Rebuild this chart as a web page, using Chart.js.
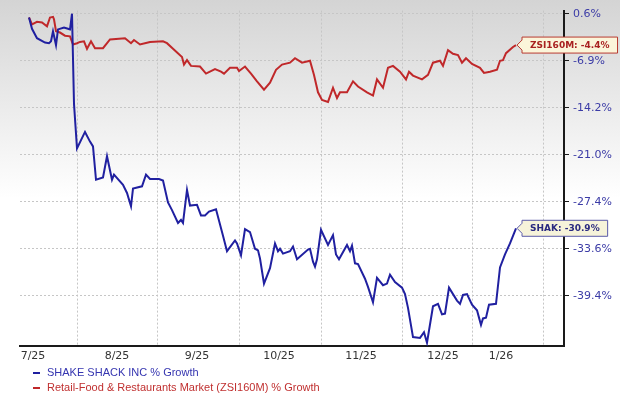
<!DOCTYPE html>
<html>
<head>
<meta charset="utf-8">
<title>SHAK vs ZSI160M % Growth</title>
<script src="https://cdn.jsdelivr.net/npm/chart.js@4.4.1/dist/chart.umd.min.js"></script>
<style>
    html, body { margin: 0; padding: 0; background: #fff; }
    #wrap { position: relative; width: 620px; height: 397px; overflow: hidden; }
    canvas { display: block; }
    .legend { position: absolute; left: 33px; top: 365px; font: 11px "Liberation Sans", Arial, sans-serif; line-height: 15px; }
    .legend .row { display: flex; align-items: center; white-space: nowrap; }
    .legend .mark { display: inline-block; width: 7px; height: 2px; margin-right: 7px; }
</style>
</head>
<body>
<div id="wrap">
    <canvas id="growthChart" width="620" height="397"></canvas>
    <div class="legend">
        <div class="row" style="color:#3535b0"><span class="mark" style="background:#2020a0"></span>SHAKE SHACK INC % Growth</div>
        <div class="row" style="color:#c03030"><span class="mark" style="background:#c0282a"></span>Retail-Food &amp; Restaurants Market (ZSI160M) % Growth</div>
    </div>
</div>
<script>
// Trading-day index (x) and % growth (y)

const shakDays = [0, 0.75, 2, 4, 5, 5.5, 6, 6.75, 7.25, 8.75, 9.75, 10.25, 10.75, 11.25, 12, 14, 15.25, 16, 16.75, 18.5,
    19.5, 20.75, 21.25, 23.5, 24.5, 25.5, 26, 28.25, 29.25, 30.25, 32.5, 33.5, 34.75, 35.75, 37.25, 38, 38.5, 39.5, 40.25, 42,
    43, 44, 45, 46.75, 48.5, 49.5, 51.5, 52, 53, 54, 55.25, 56.5, 57.25, 57.75, 58.75, 60.25, 61.5, 62.25, 62.75, 63.5,
    65.25, 66, 67, 69.75, 70.25, 71, 71.5, 72, 73, 74.75, 76, 76.75, 77.5, 79.5, 80.25, 80.75, 81.5, 82.25, 84, 84.75,
    86, 87, 88.5, 89.5, 90.25, 91.5, 93.25, 94, 94.75, 96, 97.75, 98.75, 99.5, 101, 102.25, 103.25, 104, 105, 107, 107.75,
    108.5, 109.5, 110.75, 112, 112.5, 113, 113.5, 114.25, 115, 116.75, 117.75, 119, 120.25, 121.75];
const shakPct = [0, -1.8, -3.3, -4.0, -4.1, -3.8, -2.2, -4.4, -1.9, -1.6, -1.8, -1.9, 0.6, -13.6, -20.1, -17.7, -19.1, -19.8, -24.4, -24.1,
    -21.2, -24.4, -23.7, -25.1, -26.2, -28.0, -25.6, -25.3, -23.7, -24.3, -24.3, -24.5, -27.5, -28.5, -30.2, -29.8, -30.2, -25.8, -27.9, -27.8,
    -29.2, -29.2, -28.7, -28.4, -31.9, -33.9, -32.5, -32.9, -34.4, -31.0, -31.4, -33.6, -33.8, -34.8, -37.9, -36.0, -32.9, -33.9, -33.6, -34.2,
    -33.9, -33.3, -34.9, -33.7, -33.6, -35.2, -35.8, -34.9, -31.1, -33.1, -31.8, -34.3, -34.9, -33.1, -33.9, -33.2, -35.4, -35.5, -37.3, -38.3,
    -40.2, -37.2, -38.1, -37.9, -36.8, -37.7, -38.4, -39.2, -40.9, -44.5, -44.6, -43.9, -45.2, -40.7, -40.4, -41.7, -41.6, -38.4, -40.0, -40.4,
    -39.3, -39.2, -40.5, -41.2, -42.1, -43.0, -42.2, -42.1, -40.5, -40.4, -35.9, -34.3, -32.9, -30.9];

const zsiDays = [0, 0.75, 2, 3.25, 4.5, 5.25, 6, 6.25, 6.75, 7.75, 9, 10.25, 11, 12, 12.75, 13.75, 14.5, 15.5, 16.5, 18.5,
    20.25, 24, 25.5, 26.25, 27.75, 30.25, 33.5, 34.5, 36, 38.25, 38.75, 39.5, 40.5, 42.75, 44.25, 46.5, 48, 48.75, 50.25, 52,
    52.5, 54, 55.5, 57, 58.75, 60.25, 61.75, 63.25, 65.25, 66.5, 68.25, 70.25, 71.25, 72.25, 73.25, 74.75, 76, 77, 77.75, 79.5,
    81, 82.25, 84.5, 86, 87, 88.5, 89.75, 91, 92.75, 94.25, 95, 96, 98.25, 99.75, 101, 102.75, 103.5, 104.75, 106, 107.25,
    108.25, 109.25, 110.75, 112.75, 113.75, 115.25, 117, 117.75, 118.5, 119.25, 121, 121.75];
const zsiPct = [0, -1.1, -0.7, -0.8, -1.4, 0.0, 0.1, -0.3, -2.2, -2.4, -2.9, -3.0, -4.3, -4.1, -3.9, -3.8, -5.0, -3.8, -4.9, -4.9,
    -3.5, -3.3, -4.1, -3.6, -4.3, -3.9, -3.8, -4.1, -5.0, -6.3, -7.5, -6.8, -7.7, -7.8, -8.9, -8.2, -8.6, -8.9, -8.0, -8.0,
    -8.5, -7.8, -8.9, -10.1, -11.4, -10.3, -8.3, -7.5, -7.2, -6.5, -7.2, -6.9, -9.1, -11.8, -13.0, -13.3, -11.1, -12.7, -11.8, -11.8,
    -10.1, -10.9, -11.8, -12.3, -9.8, -11.1, -8.0, -7.7, -8.6, -9.8, -8.6, -9.2, -9.8, -9.1, -7.2, -6.9, -7.7, -5.2, -5.8, -6.0,
    -7.2, -6.5, -7.4, -8.0, -8.8, -8.6, -8.3, -6.9, -6.8, -5.7, -4.7, -4.4];

// Axis ticks
const yTicks = [0.6, -6.9, -14.2, -21.0, -27.4, -33.6, -39.4];
const monthLabels = ['7/25', '8/25', '9/25', '10/25', '11/25', '12/25', '1/26'];
const labelDays = [1, 22, 42, 62.5, 83, 103.5, 118];
const gridDays = [12, 32, 52.5, 73, 93.25, 110.75, 128.5];

// y scale whose labelled ticks sit at equal spacing (piecewise linear between them)
class GrowthScale extends Chart.LinearScale {
    tickIndex(v) {
        const t = yTicks;
        const n = t.length;
        if (v >= t[0]) return (t[0] - v) / (t[0] - t[1]);
        for (let i = 0; i < n - 1; i++) {
            if (v >= t[i + 1]) return i + (t[i] - v) / (t[i] - t[i + 1]);
        }
        return n - 1 + (t[n - 1] - v) / (t[n - 2] - t[n - 1]);
    }
    getPixelForValue(v) {
        if (v === null || v === undefined) return NaN;
        const lo = this.tickIndex(this.min);
        const hi = this.tickIndex(this.max);
        return this.getPixelForDecimal((lo - this.tickIndex(v)) / (lo - hi));
    }
}
GrowthScale.id = 'growth';
GrowthScale.defaults = Chart.LinearScale.defaults;
Chart.register(GrowthScale);

// Grey-to-white background
const backgroundPlugin = {
    id: 'bg',
    beforeDraw(chart) {
        const ctx = chart.ctx;
        const g = ctx.createLinearGradient(0, 0, 0, chart.height);
        g.addColorStop(0, '#d4d4d4');
        g.addColorStop(0.5, '#ffffff');
        g.addColorStop(1, '#ffffff');
        ctx.save();
        ctx.fillStyle = g;
        ctx.fillRect(0, 0, chart.width, chart.height);
        ctx.restore();
    }
};

// Last-value callouts
const calloutPlugin = {
    id: 'callouts',
    afterDatasetsDraw(chart) {
        const ctx = chart.ctx;
        chart.data.datasets.forEach((ds, i) => {
            const pts = chart.getDatasetMeta(i).data;
            const p = pts[pts.length - 1];
            const last = ds.data[ds.data.length - 1].y;
            const text = ds.tag + ': ' + last.toFixed(1) + '%';
            ctx.save();
            ctx.font = 'bold 9px "DejaVu Sans"';
            const w = ctx.measureText(text).width + 16;
            const bx = p.x + 6;
            const top = p.y - 8;
            const h = 16;
            ctx.beginPath();
            ctx.moveTo(p.x + 1, p.y);
            ctx.lineTo(bx, p.y - 5);
            ctx.lineTo(bx, top);
            ctx.lineTo(bx + w, top);
            ctx.lineTo(bx + w, top + h);
            ctx.lineTo(bx, top + h);
            ctx.lineTo(bx, p.y + 5);
            ctx.closePath();
            ctx.fillStyle = ds.calloutBg;
            ctx.fill();
            ctx.strokeStyle = ds.calloutBorder;
            ctx.lineWidth = 1;
            ctx.stroke();
            ctx.fillStyle = ds.calloutText;
            ctx.textBaseline = 'middle';
            ctx.fillText(text, bx + 8, p.y + 0.5);
            ctx.restore();
        });
    }
};

const gridColor = '#c6c6c6';
const axisColor = '#1a1a1a';

new Chart(document.getElementById('growthChart'), {
    type: 'line',
    data: {
        datasets: [
            {
                label: 'SHAKE SHACK INC % Growth',
                tag: 'SHAK',
                data: shakDays.map((d, i) => ({ x: d, y: shakPct[i] })),
                borderColor: '#2020a0',
                borderWidth: 2,
                pointRadius: 0,
                tension: 0,
                calloutBg: '#f6f3da',
                calloutBorder: '#5a5aa8',
                calloutText: '#2a2a80'
            },
            {
                label: 'Retail-Food & Restaurants Market (ZSI160M) % Growth',
                tag: 'ZSI160M',
                data: zsiDays.map((d, i) => ({ x: d, y: zsiPct[i] })),
                borderColor: '#c0282a',
                borderWidth: 2,
                pointRadius: 0,
                tension: 0,
                calloutBg: '#fbf5da',
                calloutBorder: '#b83a30',
                calloutText: '#a82020'
            }
        ]
    },
    options: {
        responsive: false,
        animation: false,
        devicePixelRatio: 1,
        events: [],
        layout: { padding: { left: 20, right: 0, top: 5, bottom: 31 } },
        plugins: {
            legend: { display: false },
            tooltip: { enabled: false }
        },
        scales: {
            x: {
                type: 'linear',
                min: -2.25,
                max: 133.75,
                afterBuildTicks: axis => {
                    axis.ticks = gridDays.concat(labelDays).sort((a, b) => a - b).map(v => ({ value: v }));
                },
                afterFit: axis => { axis.height = 20; },
                ticks: {
                    autoSkip: false,
                    maxRotation: 0,
                    padding: 4,
                    color: '#333',
                    font: { family: 'DejaVu Sans', size: 11 },
                    callback: v => {
                        const i = labelDays.indexOf(v);
                        return i >= 0 ? monthLabels[i] : '';
                    }
                },
                grid: {
                    color: c => (c.tick && gridDays.includes(c.tick.value)) ? gridColor : 'rgba(0,0,0,0)',
                    drawTicks: false,
                    lineWidth: 1
                },
                border: { color: axisColor, width: 2, dash: [2, 2] }
            },
            y: {
                type: 'growth',
                position: 'right',
                min: -45.6,
                max: 1.1,
                afterBuildTicks: axis => {
                    axis.ticks = yTicks.map(v => ({ value: v }));
                },
                afterFit: axis => { axis.width = 56; },
                ticks: {
                    padding: 4,
                    color: '#3b3ba6',
                    font: { family: 'DejaVu Sans', size: 11 },
                    callback: v => v.toFixed(1) + '%'
                },
                grid: {
                    color: gridColor,
                    tickColor: axisColor,
                    tickLength: 5,
                    tickBorderDash: []
                },
                border: { color: axisColor, width: 2, dash: [2, 2] }
            }
        }
    },
    plugins: [backgroundPlugin, calloutPlugin]
});
</script>
</body>
</html>
